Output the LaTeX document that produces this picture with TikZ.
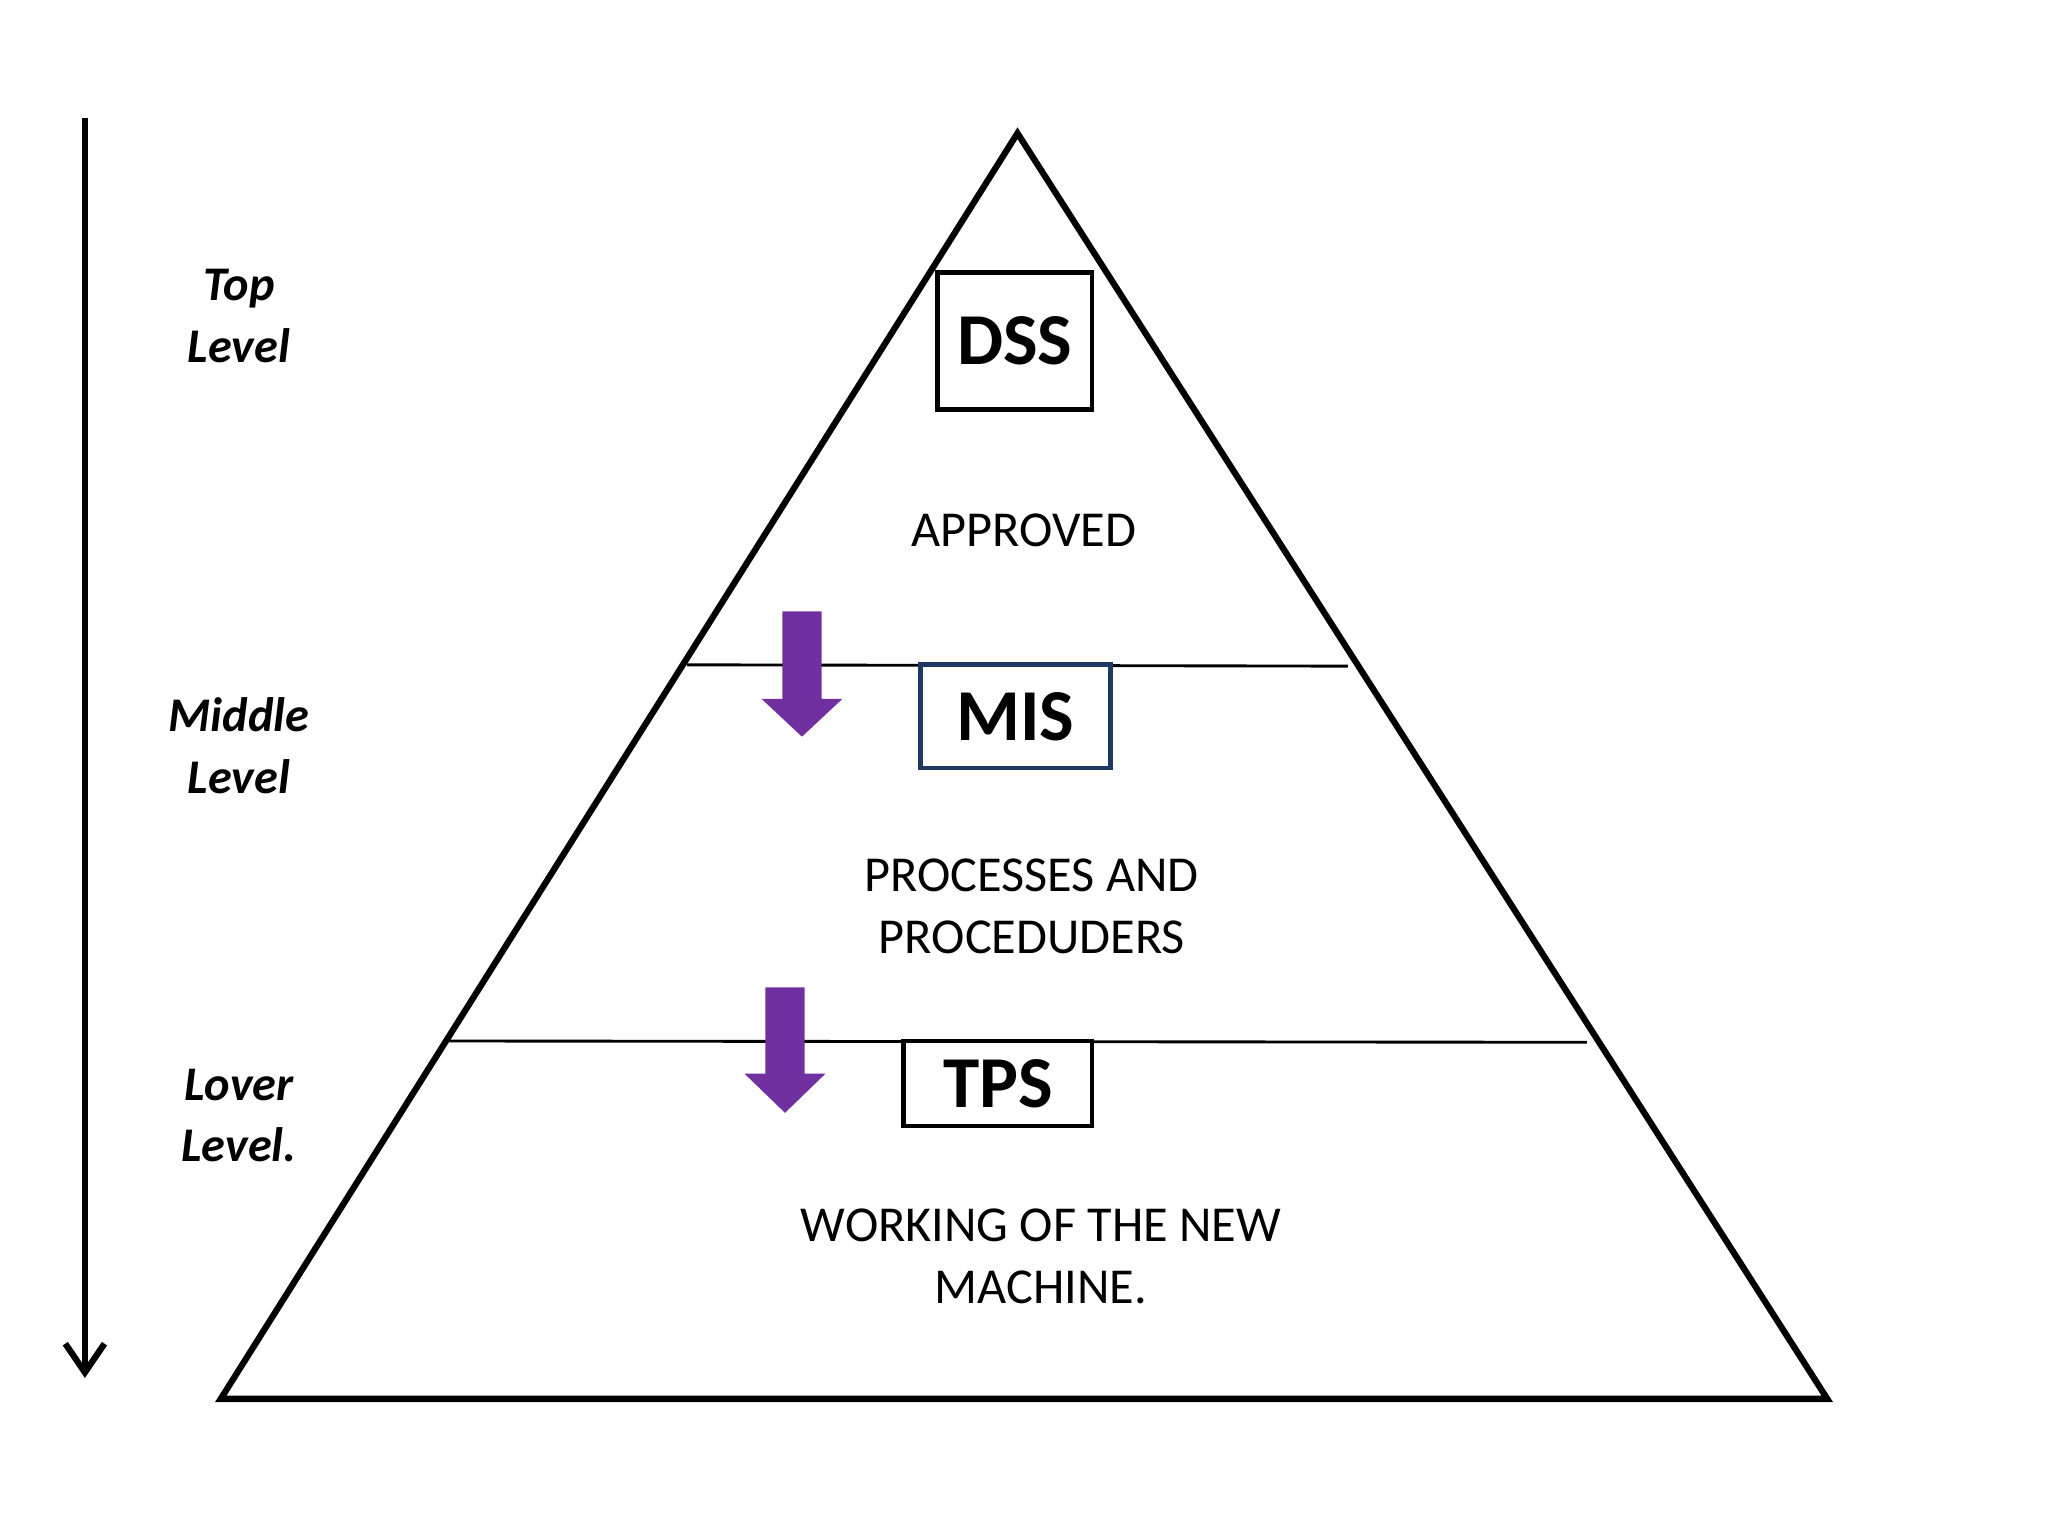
\documentclass[tikz,border=0pt]{standalone}
\usepackage{fontspec}
\setmainfont{Carlito}
\usetikzlibrary{arrows.meta}
\definecolor{purp}{HTML}{7030A0}
\definecolor{misblue}{HTML}{1F3864}
\begin{document}
\begin{tikzpicture}[x=1pt,y=-1pt,
  thick line/.style={line width=4.8pt},
  box/.style={draw,line width=3.6pt,inner sep=0pt,font=\fontsize{56}{60}\selectfont\bfseries},
  body/.style={font=\fontsize{38.5}{47}\selectfont,align=center},
  lvl/.style={font=\fontsize{37}{47}\selectfont\bfseries\itshape,align=center},
  parrow/.style={fill=purp,draw=none}]
\useasboundingbox (0,0) rectangle (1568,1176);
\coordinate (as) at (65,90); \coordinate (ae) at (65,1055);
\draw[thick line,-{Straight Barb[length=22pt,width=30pt,line width=4.8pt]}] (as) -- (ae);
\coordinate (apex) at (779,102); \coordinate (bl) at (169,1071); \coordinate (br) at (1399,1071);
\draw[thick line,line join=miter] (apex) -- (bl) -- (br) -- cycle;
\coordinate (l1a) at (526,509); \coordinate (l1b) at (1032,510);
\coordinate (l2a) at (344,797); \coordinate (l2b) at (1215,798);
\draw[line width=2.2pt] (l1a) -- (l1b);
\draw[line width=2.2pt] (l2a) -- (l2b);
\node[box,fill=white,minimum width=118pt,minimum height=105pt] (dss) at (777,261) {DSS};
\node[box,draw=misblue,fill=white,minimum width=145pt,minimum height=79pt] (mis) at (777.5,548.5) {MIS};
\node[box,fill=white,minimum width=144pt,minimum height=65pt] (tps) at (764,829.5) {TPS};
\node[body] (app) at (784,406) {APPROVED};
\node[body] (proc) at (790,694) {PROCESSES AND\\PROCEDUDERS};
\node[body] (work) at (797,962) {WORKING OF THE NEW\\MACHINE.};
\node[lvl] (top) at (183,242) {Top\\Level};
\node[lvl] (mid) at (183,571) {Middle\\Level};
\node[lvl] (low) at (183,854) {Lover\\Level.};
\fill[parrow] (599,468) -- (629,468) -- (629,535) -- (645,535) -- (614,564) -- (583,535) -- (599,535) -- cycle;
\fill[parrow] (586,756) -- (616,756) -- (616,822) -- (632,822) -- (601,852) -- (570,822) -- (586,822) -- cycle;
\end{tikzpicture}
\end{document}
